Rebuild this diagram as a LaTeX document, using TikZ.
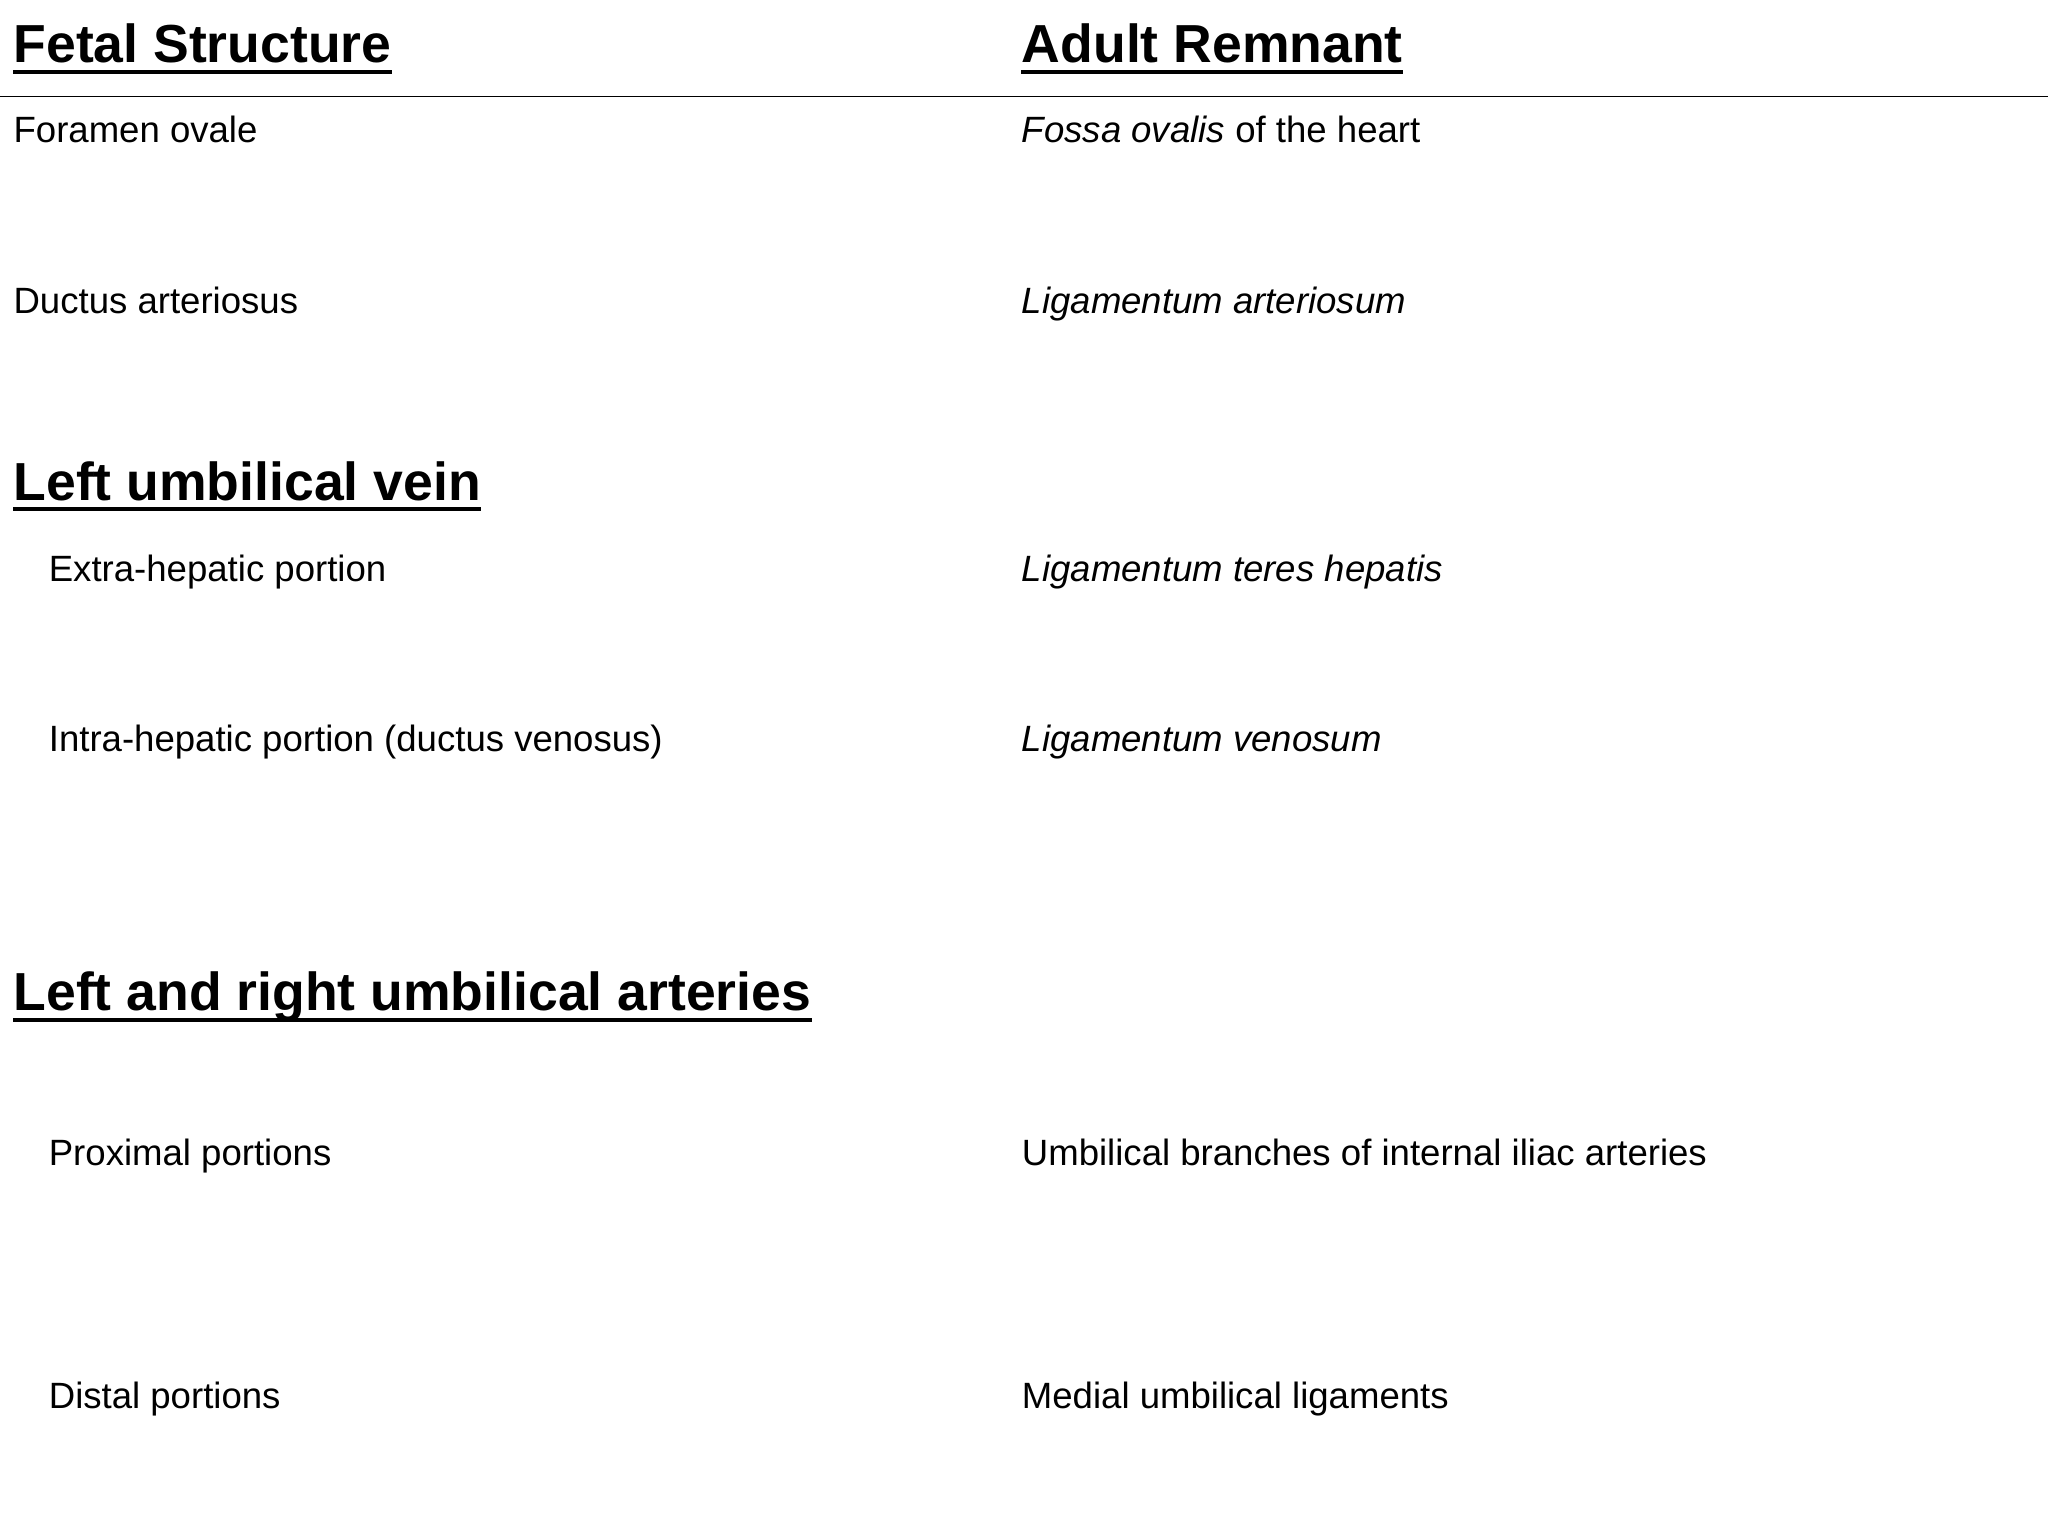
\documentclass[tikz,border=0pt]{standalone}
\usepackage{fontspec}
\setmainfont{Liberation Sans}
\begin{document}
\begin{tikzpicture}[x=0.5pt,y=-0.5pt,
  head/.style={anchor=base west,inner sep=0pt,font=\fontsize{20.5}{24}\selectfont\bfseries},
  body/.style={anchor=base west,inner sep=0pt,font=\fontsize{14}{17}\selectfont}]
\useasboundingbox (0,0) rectangle (1568,1176);
\fill[white] (0,0) rectangle (1568,1176);
\newcommand{\ul}[1]{\draw[line width=1.5pt] ([yshift=-3.5pt]#1.base west) -- ([yshift=-3.5pt]#1.base east);}
\node[head] (h1) at (10,48) {Fetal Structure}; \ul{h1}
\node[head] (h2) at (782,48) {Adult Remnant}; \ul{h2}
\coordinate (l0) at (0,74); \coordinate (l1) at (1568,74);
\draw[line width=0.6pt] (l0) -- (l1);
\node[body] (a1) at (10,109) {Foramen ovale};
\node[body] (b1) at (782,109) {\textit{Fossa ovalis} of the heart};
\node[body] (a2) at (10,240) {Ductus arteriosus};
\node[body] (b2) at (782,240) {\textit{Ligamentum arteriosum}};
\node[head] (h3) at (10,383) {Left umbilical vein}; \ul{h3}
\node[body] (a3) at (37,445) {Extra-hepatic portion};
\node[body] (b3) at (782,445) {\textit{Ligamentum teres hepatis}};
\node[body] (a4) at (37,575) {Intra-hepatic portion (ductus venosus)};
\node[body] (b4) at (782,575) {\textit{Ligamentum venosum}};
\node[head] (h4) at (10,774) {Left and right umbilical arteries}; \ul{h4}
\node[body] (a5) at (37,892) {Proximal portions};
\node[body] (b5) at (782,892) {Umbilical branches of internal iliac arteries};
\node[body] (a6) at (37,1078) {Distal portions};
\node[body] (b6) at (782,1078) {Medial umbilical ligaments};
\end{tikzpicture}
\end{document}
